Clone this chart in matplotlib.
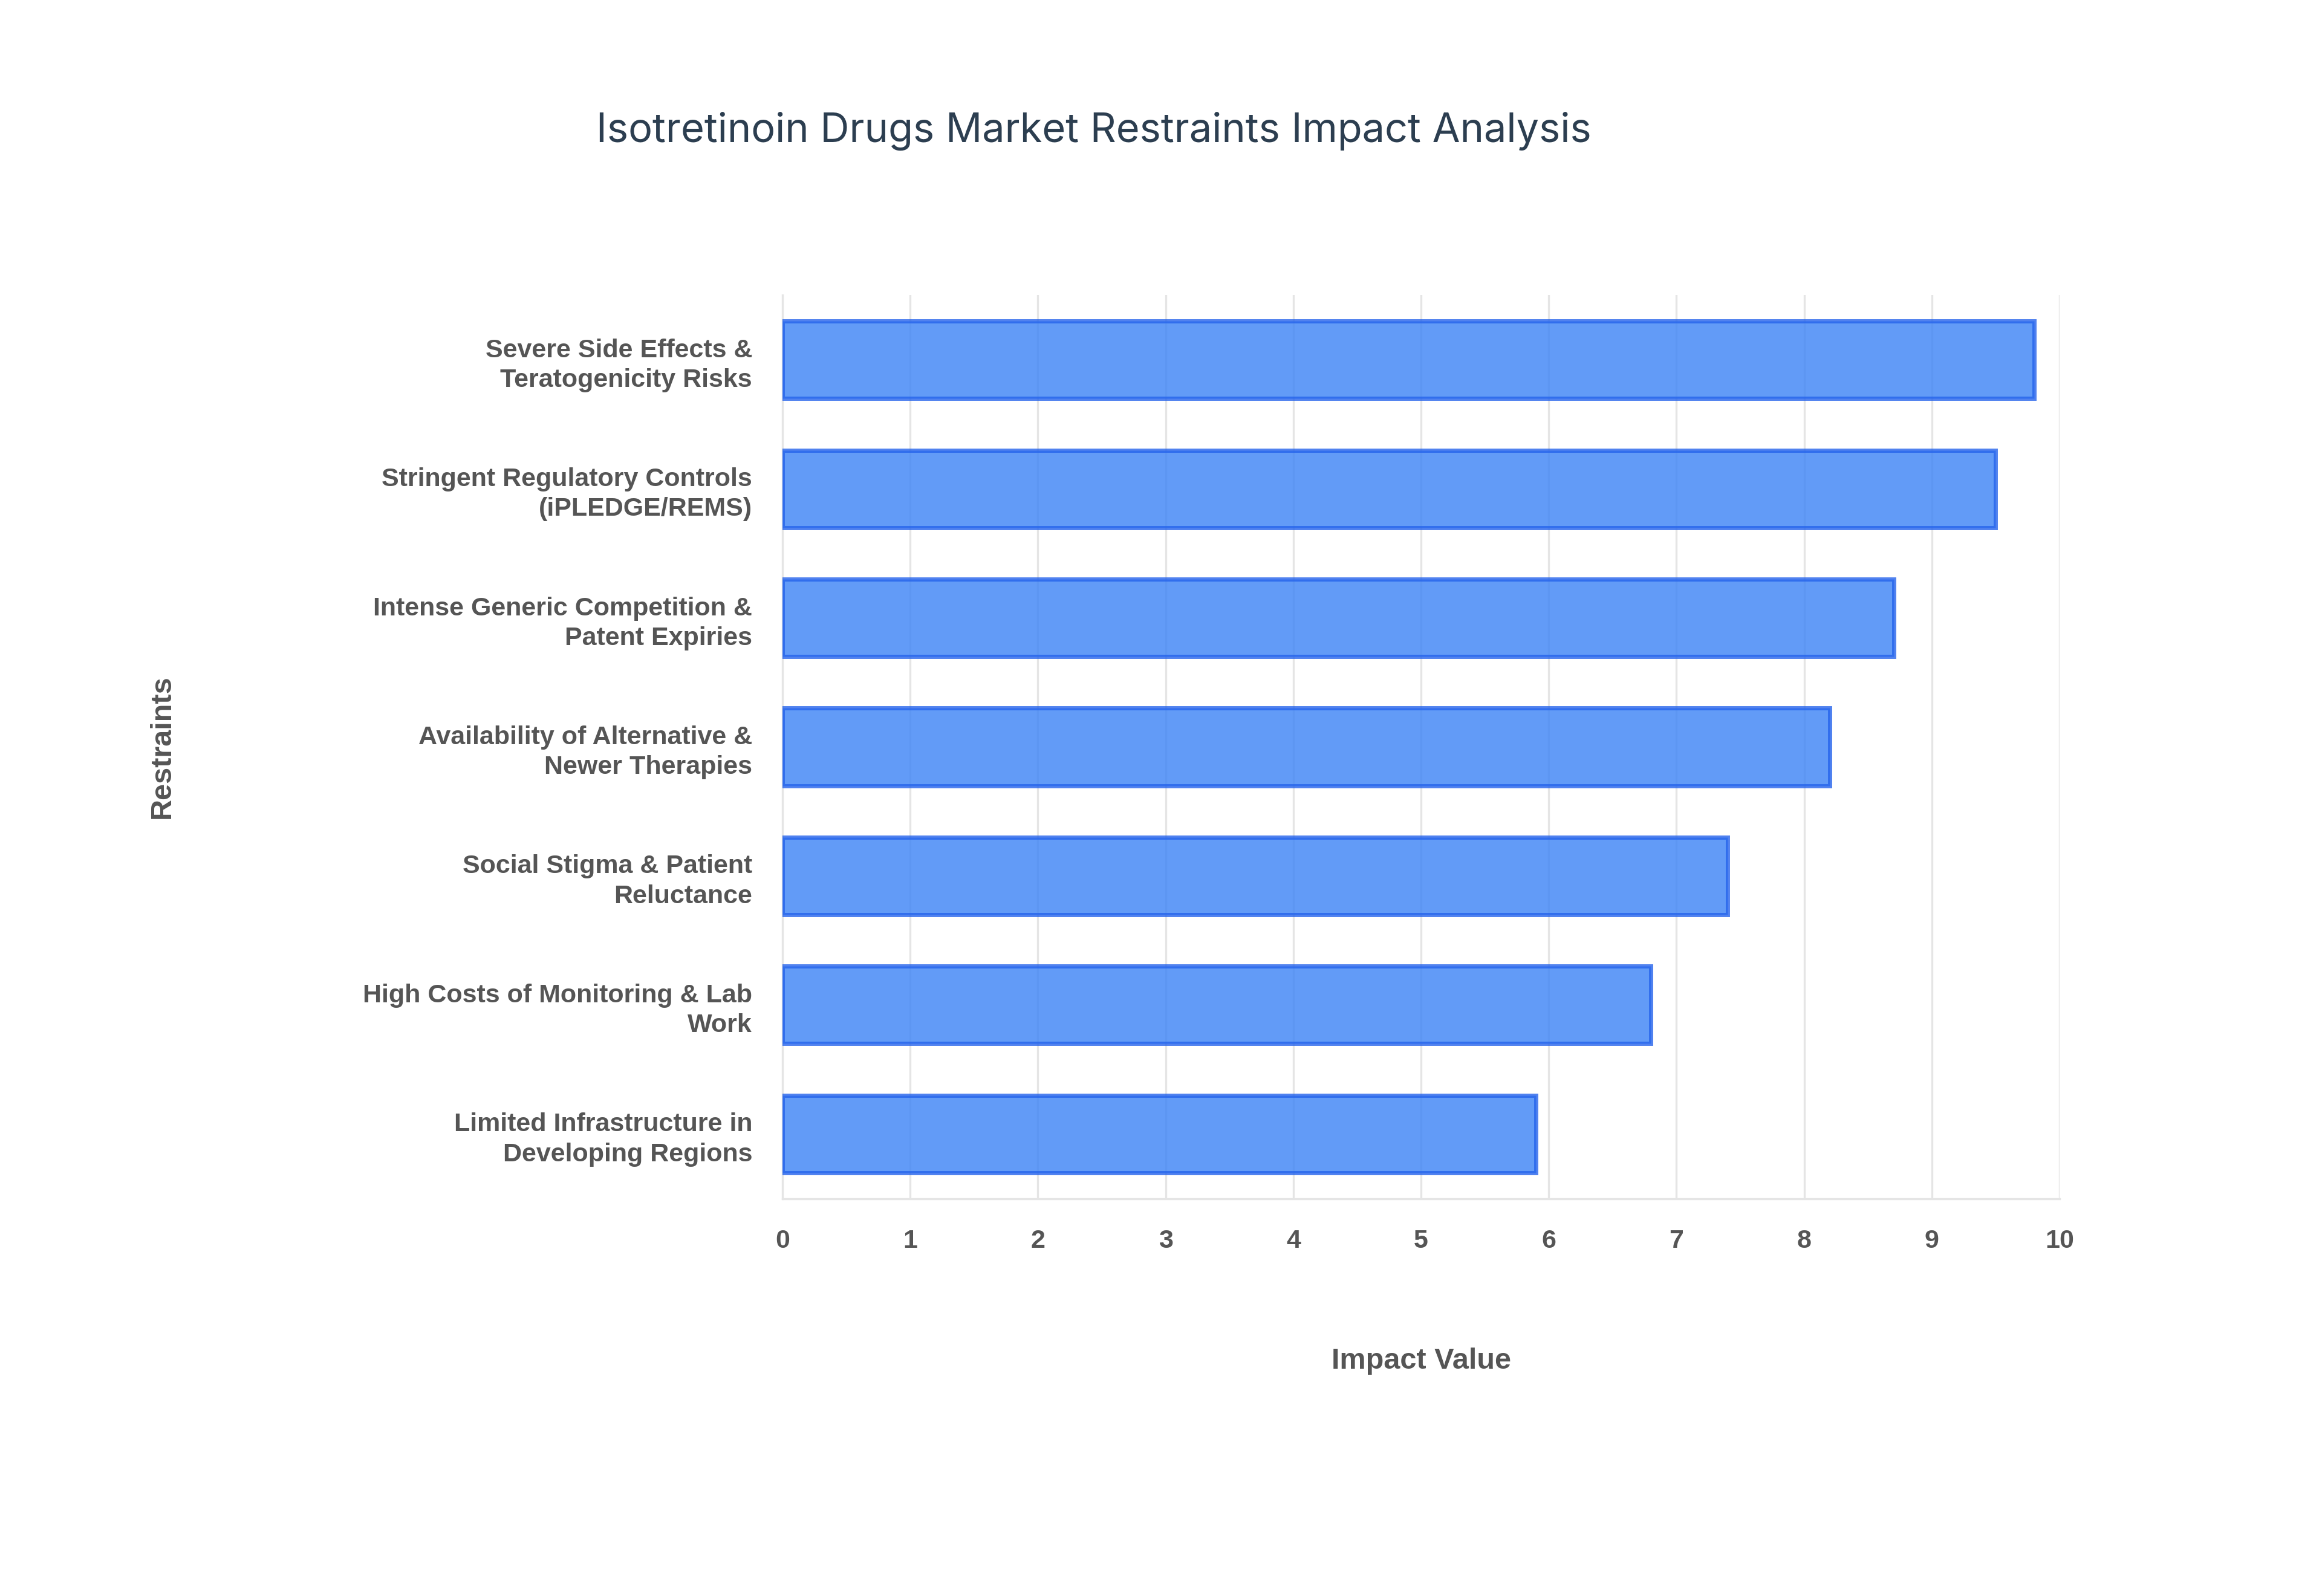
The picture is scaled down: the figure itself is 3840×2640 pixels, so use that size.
import matplotlib
matplotlib.use("Agg")
import matplotlib.pyplot as plt

categories = ["Severe Side Effects &\nTeratogenicity Risks",
              "Stringent Regulatory Controls\n(iPLEDGE/REMS)",
              "Intense Generic Competition &\nPatent Expiries",
              "Availability of Alternative &\nNewer Therapies",
              "Social Stigma & Patient\nReluctance",
              "High Costs of Monitoring & Lab\nWork",
              "Limited Infrastructure in\nDeveloping Regions"]
values = [9.8, 9.5, 8.7, 8.2, 7.4, 6.8, 5.9]
xticks = list(range(0, 11))

fig = plt.figure(figsize=(19.2, 13.2), dpi=200)
ax = fig.add_axes([0.337, 0.249, 0.55, 0.566])
ypos = list(range(len(categories)))[::-1]
ax.barh(ypos, values, height=0.6, color="#3b82f6", alpha=0.8,
        edgecolor="#2563eb", linewidth=2.5, zorder=3)
ax.set_ylim(-0.5, len(categories) - 0.5)
ax.set_xlim(0, 10)
ax.set_xticks(xticks)
ax.set_yticks(ypos)
ax.set_yticklabels(categories, fontfamily="Liberation Sans", fontweight="bold",
                   fontsize=15.5, color="#555555", linespacing=1.3)
for lab in ax.get_xticklabels():
    lab.set_fontfamily("Liberation Sans"); lab.set_fontweight("bold")
    lab.set_fontsize(15.5); lab.set_color("#555555")
ax.tick_params(axis="y", length=0, pad=18)
ax.tick_params(axis="x", length=0, pad=18)
ax.grid(axis="x", color="#e5e5e5", linewidth=1.2, zorder=0)
for s in ["top", "right"]:
    ax.spines[s].set_visible(False)
for s in ["left", "bottom"]:
    ax.spines[s].set_color("#e5e5e5"); ax.spines[s].set_linewidth(1.2)
ax.set_xlabel("Impact Value", fontfamily="Liberation Sans", fontweight="bold",
              fontsize=17.5, color="#555555")
ax.xaxis.set_label_coords(0.5, -0.165)
ax.set_ylabel("Restraints", fontfamily="Liberation Sans", fontweight="bold",
              fontsize=17.5, color="#555555")
ax.yaxis.set_label_coords(-0.475, 0.5)
fig.text(0.471, 0.918, "Isotretinoin Drugs Market Restraints Impact Analysis",
         ha="center", va="center", fontfamily="Inter", fontsize=24, color="#2c3e50")
fig.savefig("out.png", dpi=200, facecolor="white")
